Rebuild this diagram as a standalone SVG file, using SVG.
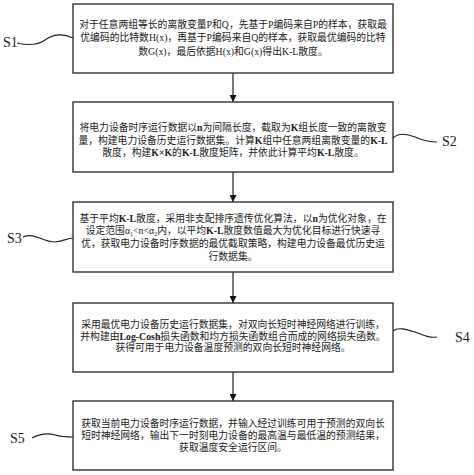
<svg xmlns="http://www.w3.org/2000/svg" width="474" height="475" viewBox="0 0 474 475">
<defs>
<style>
.box{fill:#fff;stroke:#333;stroke-width:1.4}
.t{font-family:"Liberation Serif","Noto Sans CJK SC",serif;font-size:9.8px;fill:#222;text-anchor:middle}
.b{font-weight:bold}
.lbl{font-family:"Liberation Serif",serif;font-size:14px;fill:#222}
.ln{fill:none;stroke:#222;stroke-width:1.2}
</style>
<marker id="ah" viewBox="0 0 8 8" refX="8" refY="4" markerWidth="7" markerHeight="7" markerUnits="userSpaceOnUse" orient="auto">
<path d="M0,0 L8,4 L0,8 Z" fill="#111"/>
</marker>
</defs>
<rect width="474" height="475" fill="#fff"/>
<g id="connectors">
<line class="ln" x1="233" y1="73" x2="233" y2="102" marker-end="url(#ah)"/>
<line class="ln" x1="233" y1="172" x2="233" y2="202" marker-end="url(#ah)"/>
<line class="ln" x1="233" y1="272" x2="233" y2="303" marker-end="url(#ah)"/>
<line class="ln" x1="233" y1="372" x2="233" y2="401" marker-end="url(#ah)"/>
<path class="ln" d="M17,43 C30,46 38,45 45,40 C52,35 62,33 73,38"/>
<path class="ln" d="M393,138 C398,133 405,133 415,137 C422,140 428,142 437,142"/>
<path class="ln" d="M23,237 C35,232 42,242 55,242 C62,242 67,238 73,238"/>
<path class="ln" d="M393,331 C398,327 405,329 415,332 C425,336 430,338 437,337"/>
<path class="ln" d="M32,438 C40,434 48,433 55,435 C62,437 67,437 73,437"/>
</g>
<g id="S1">
<rect class="box" x="73" y="4" width="320" height="69"/>
<text class="t" x="233" y="28">对于任意两组等长的离散变量P和Q，先基于P编码来自P的样本，获取最</text>
<text class="t" x="233" y="41">优编码的比特数H(x)，再基于P编码来自Q的样本，获取最优编码的比特</text>
<text class="t" x="233" y="55">数G(x)，最后依据H(x)和G(x)得出K-L散度。</text>
<text class="lbl" x="3" y="47">S1</text>
</g>
<g id="S2">
<rect class="box" x="73" y="102" width="320" height="70"/>
<text class="t" x="233" y="131">将电力设备时序运行数据以<tspan class="b">n</tspan>为间隔长度，截取为<tspan class="b">K</tspan>组长度一致的离散变</text>
<text class="t" x="233" y="144">量，构建电力设备历史运行数据集。计算<tspan class="b">K</tspan>组中任意两组离散变量的<tspan class="b">K-L</tspan></text>
<text class="t" x="233" y="156">散度，构建<tspan class="b">K×K</tspan>的<tspan class="b">K-L</tspan>散度矩阵，并依此计算平均<tspan class="b">K-L</tspan>散度。</text>
<text class="lbl" x="442" y="146">S2</text>
</g>
<g id="S3">
<rect class="box" x="73" y="202" width="320" height="70"/>
<text class="t" x="233" y="222">基于平均<tspan class="b">K-L</tspan>散度，采用非支配排序遗传优化算法，以<tspan class="b">n</tspan>为优化对象，在</text>
<text class="t" x="233" y="234">设定范围α<tspan font-size="6" dy="2">1</tspan><tspan dy="-2">&lt;n&lt;α</tspan><tspan font-size="6" dy="2">2</tspan><tspan dy="-2">内，以平均</tspan><tspan class="b">K-L</tspan>散度数值最大为优化目标进行快速寻</text>
<text class="t" x="233" y="247">优，获取电力设备时序数据的最优截取策略，构建电力设备最优历史运</text>
<text class="t" x="233" y="260">行数据集。</text>
<text class="lbl" x="7" y="243">S3</text>
</g>
<g id="S4">
<rect class="box" x="73" y="303" width="320" height="69"/>
<text class="t" x="233" y="328">采用最优电力设备历史运行数据集，对双向长短时神经网络进行训练，</text>
<text class="t" x="233" y="340">并构建由<tspan class="b">Log-Cosh</tspan>损失函数和均方损失函数组合而成的网络损失函数。</text>
<text class="t" x="233" y="351">获得可用于电力设备温度预测的双向长短时神经网络。</text>
<text class="lbl" x="455" y="342">S4</text>
</g>
<g id="S5">
<rect class="box" x="73" y="401" width="320" height="69"/>
<text class="t" x="233" y="427">获取当前电力设备时序运行数据，并输入经过训练可用于预测的双向长</text>
<text class="t" x="233" y="439">短时神经网络，输出下一时刻电力设备的最高温与最低温的预测结果，</text>
<text class="t" x="233" y="451">获取温度安全运行区间。</text>
<text class="lbl" x="10" y="443">S5</text>
</g>
</svg>
